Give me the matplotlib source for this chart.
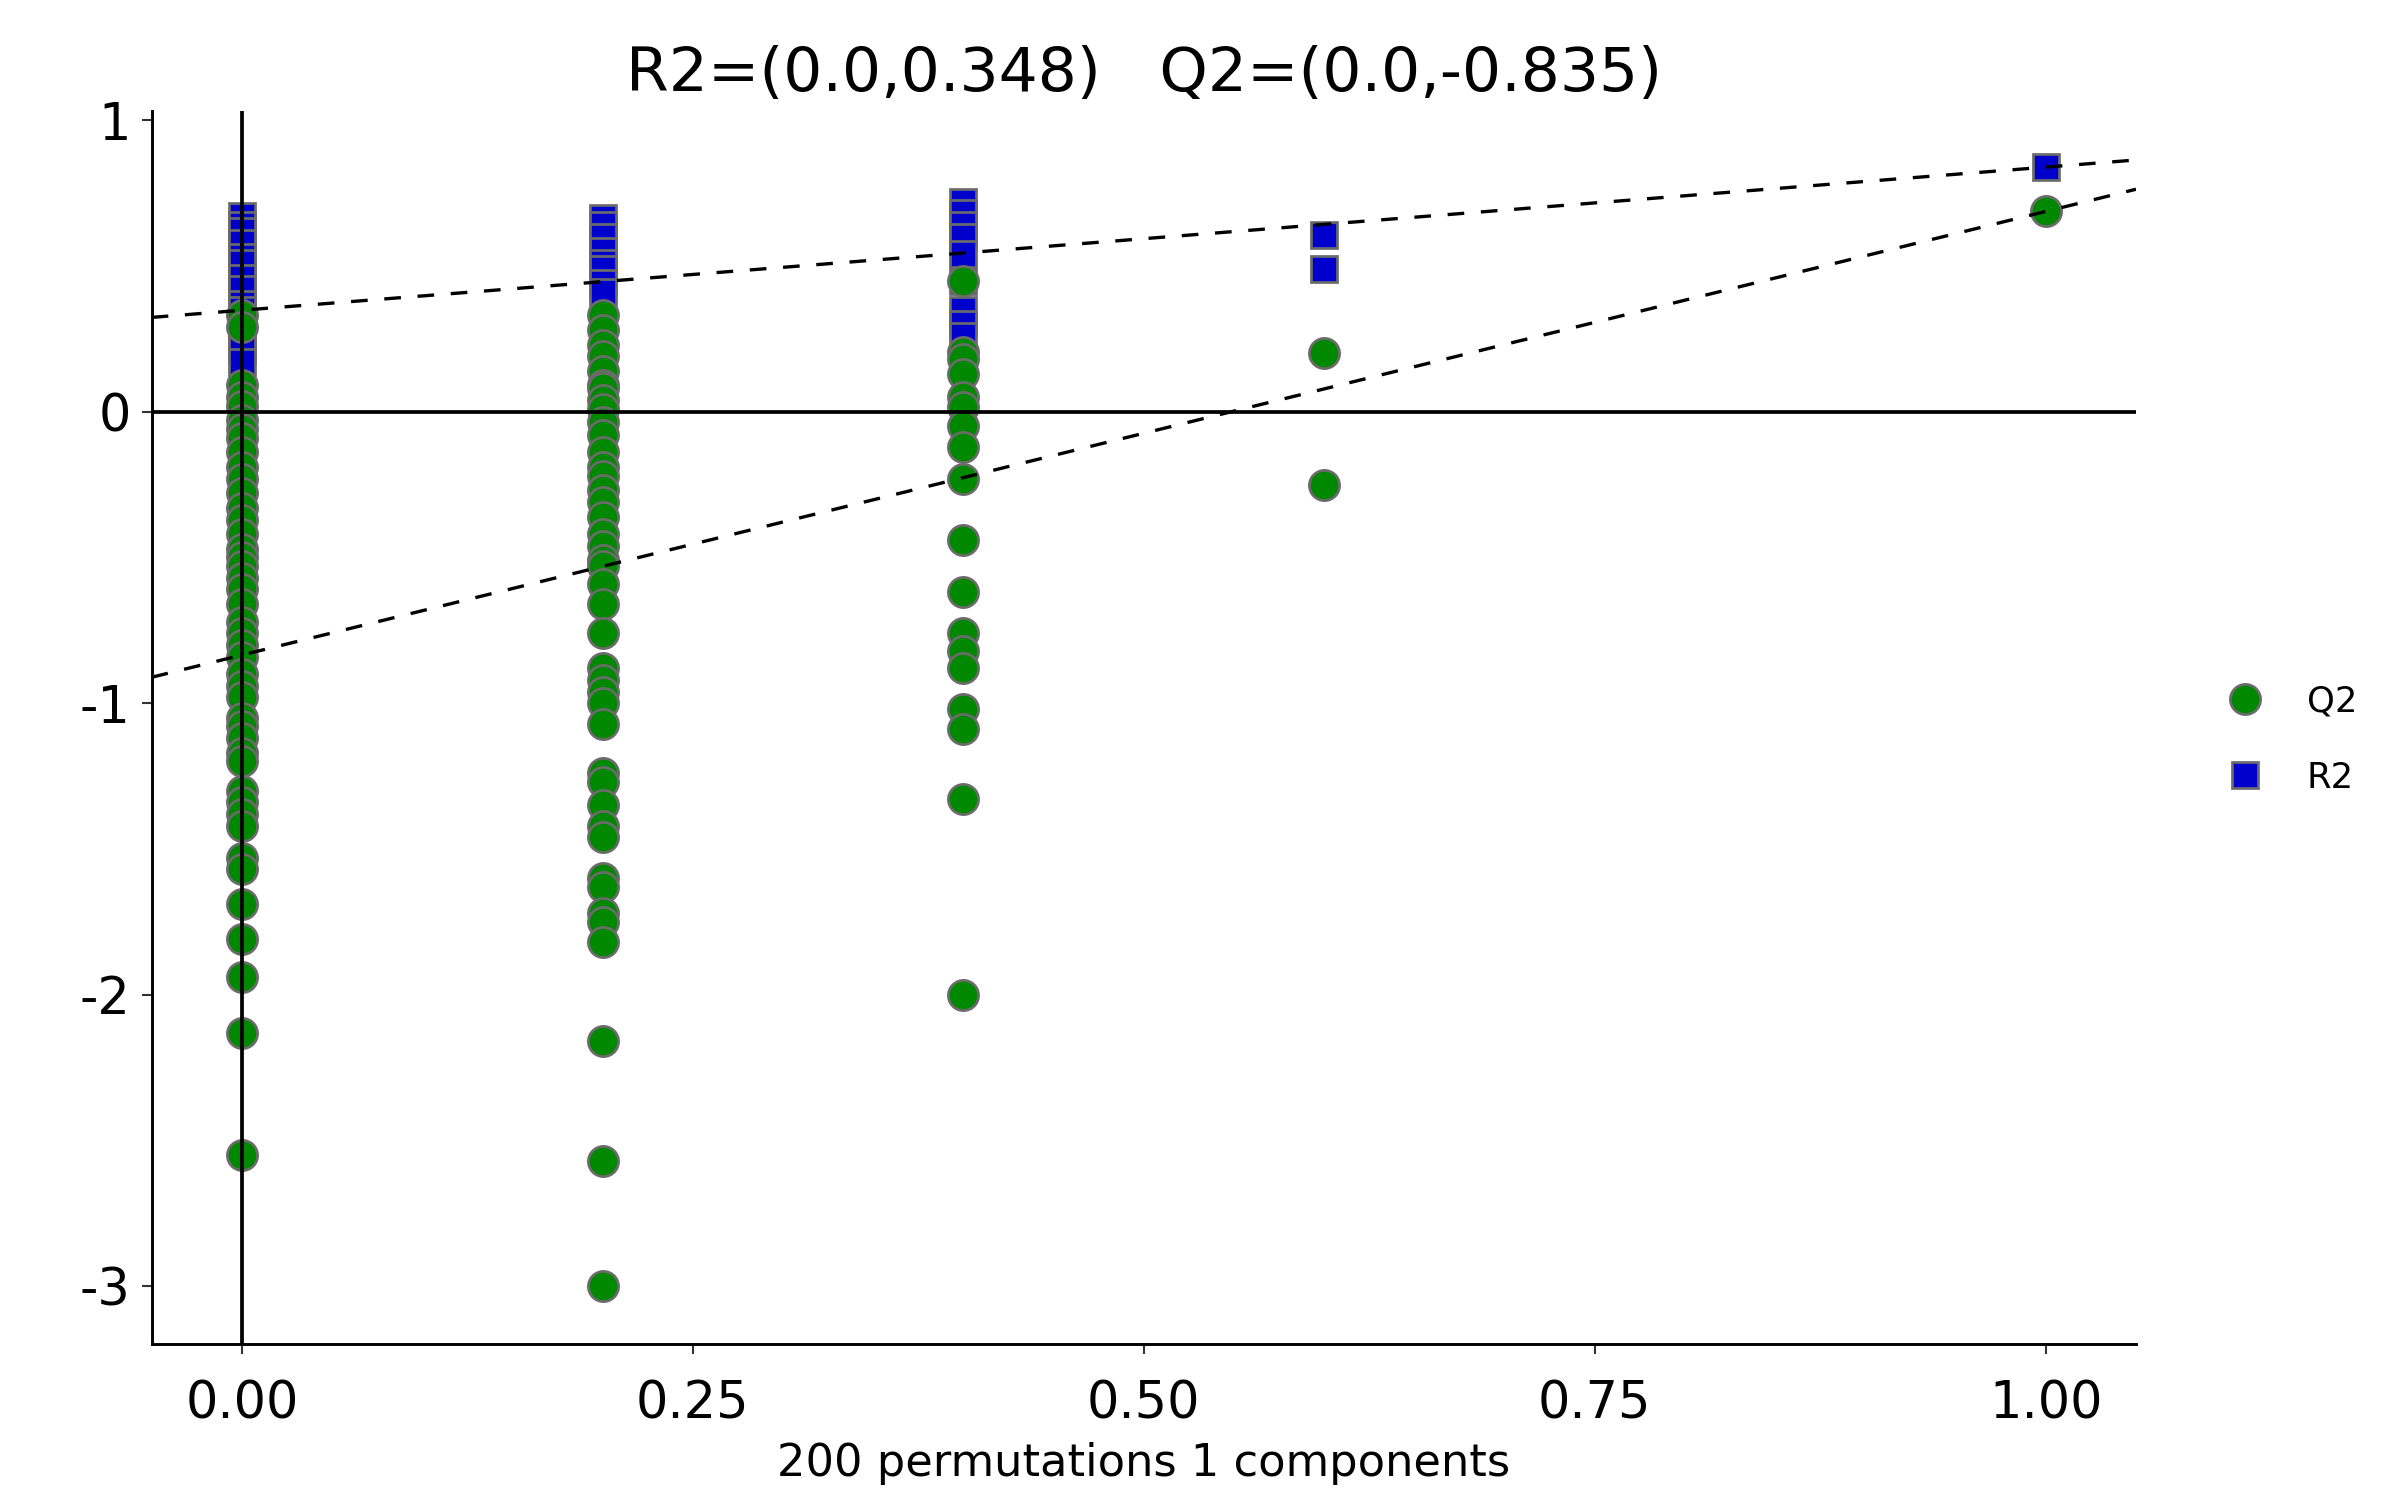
import matplotlib
matplotlib.use("Agg")
import matplotlib.pyplot as plt
from matplotlib.lines import Line2D
from matplotlib.ticker import FormatStrFormatter

plt.rcParams["axes.unicode_minus"] = False

# permutation similarity (x) and the R2 / Q2 values
r2_x0 = [0.67, 0.64, 0.62, 0.58, 0.53, 0.51, 0.46, 0.42, 0.37, 0.35, 0.30, 0.25, 0.21, 0.17]
q2_x0 = [0.33, 0.29, 0.09, 0.05, 0.02, -0.03, -0.06, -0.09, -0.14, -0.19, -0.23, -0.28,
         -0.33, -0.37, -0.42, -0.47, -0.50, -0.53, -0.57, -0.61, -0.66, -0.72, -0.76,
         -0.80, -0.84, -0.90, -0.94, -0.98, -1.05, -1.08, -1.12, -1.17, -1.20, -1.30,
         -1.34, -1.38, -1.42, -1.53, -1.57, -1.69, -1.81, -1.94, -2.13, -2.55]

r2_x2 = [0.665, 0.64, 0.60, 0.55, 0.51, 0.49, 0.44, 0.41]
q2_x2 = [0.33, 0.28, 0.23, 0.19, 0.14, 0.09, 0.08, 0.04, 0.01, -0.035, -0.08, -0.14,
         -0.19, -0.22, -0.27, -0.31, -0.36, -0.42, -0.46, -0.51, -0.53, -0.59, -0.66,
         -0.76, -0.88, -0.92, -0.96, -1.00, -1.07, -1.24, -1.27, -1.35, -1.42, -1.46,
         -1.60, -1.63, -1.72, -1.75, -1.82, -2.16, -2.57, -3.00]

r2_x4 = [0.72, 0.68, 0.64, 0.60, 0.54, 0.45, 0.35, 0.30, 0.26]
q2_x4 = [0.45, 0.205, 0.18, 0.13, 0.05, 0.015, -0.05, -0.12, -0.23, -0.44, -0.62,
         -0.76, -0.82, -0.88, -1.02, -1.09, -1.33, -2.00]

r2_x6 = [0.605, 0.49]
q2_x6 = [0.20, -0.25]

r2_orig = 0.839
q2_orig = 0.687

r2_intercept = 0.348
q2_intercept = -0.835

x_r2 = [0.0] * len(r2_x0) + [0.2] * len(r2_x2) + [0.4] * len(r2_x4) + [0.6] * len(r2_x6) + [1.0]
y_r2 = r2_x0 + r2_x2 + r2_x4 + r2_x6 + [r2_orig]
x_q2 = [0.0] * len(q2_x0) + [0.2] * len(q2_x2) + [0.4] * len(q2_x4) + [0.6] * len(q2_x6) + [1.0]
y_q2 = q2_x0 + q2_x2 + q2_x4 + q2_x6 + [q2_orig]

green = "#008800"
blue = "#0000cd"
edge = "#6b6b6b"

fig = plt.figure(figsize=(16, 10), dpi=150)
ax = fig.add_axes([0.0632, 0.1037, 0.8268, 0.822])

ax.plot(x_r2, y_r2, ls="none", marker="s", ms=12.5, mfc=blue, mec=edge, mew=1.3, zorder=2)
ax.plot(x_q2, y_q2, ls="none", marker="o", ms=14.5, mfc=green, mec=edge, mew=1.3, zorder=3)

ax.axhline(0, color="black", lw=1.8, zorder=4)
ax.axvline(0, color="black", lw=1.8, zorder=4)
ax.axline((0, r2_intercept), (1, r2_orig), color="black", lw=1.6, ls=(0, (5, 5)), zorder=5)
ax.axline((0, q2_intercept), (1, q2_orig), color="black", lw=1.6, ls=(0, (5, 5)), zorder=5)

ax.set_xlim(-0.05, 1.05)
ax.set_ylim(-3.2, 1.03)
ax.set_xticks([0, 0.25, 0.5, 0.75, 1.0])
ax.set_yticks([-3, -2, -1, 0, 1])
ax.xaxis.set_major_formatter(FormatStrFormatter("%.2f"))
ax.tick_params(labelsize=24.5, length=5, width=1.0, color="#333333")
ax.tick_params(axis="x", pad=12)
ax.tick_params(axis="y", pad=5)
for s in ["top", "right"]:
    ax.spines[s].set_visible(False)
for s in ["left", "bottom"]:
    ax.spines[s].set_linewidth(1.4)

ax.set_title("R2=(0.0,0.348)   Q2=(0.0,-0.835)", fontsize=29.5, pad=10)
ax.set_xlabel("200 permutations 1 components", fontsize=21.5, labelpad=6)

handles = [
    Line2D([], [], ls="none", marker="o", ms=14.5, mfc=green, mec=edge, mew=1.3),
    Line2D([], [], ls="none", marker="s", ms=12.5, mfc=blue, mec=edge, mew=1.3),
]
fig.legend(handles, ["Q2", "R2"], loc="center left", bbox_to_anchor=(0.911, 0.507),
           frameon=False, fontsize=17, handlelength=1.5, handletextpad=1.0,
           labelspacing=1.2)

fig.savefig("out.png", dpi=150)
